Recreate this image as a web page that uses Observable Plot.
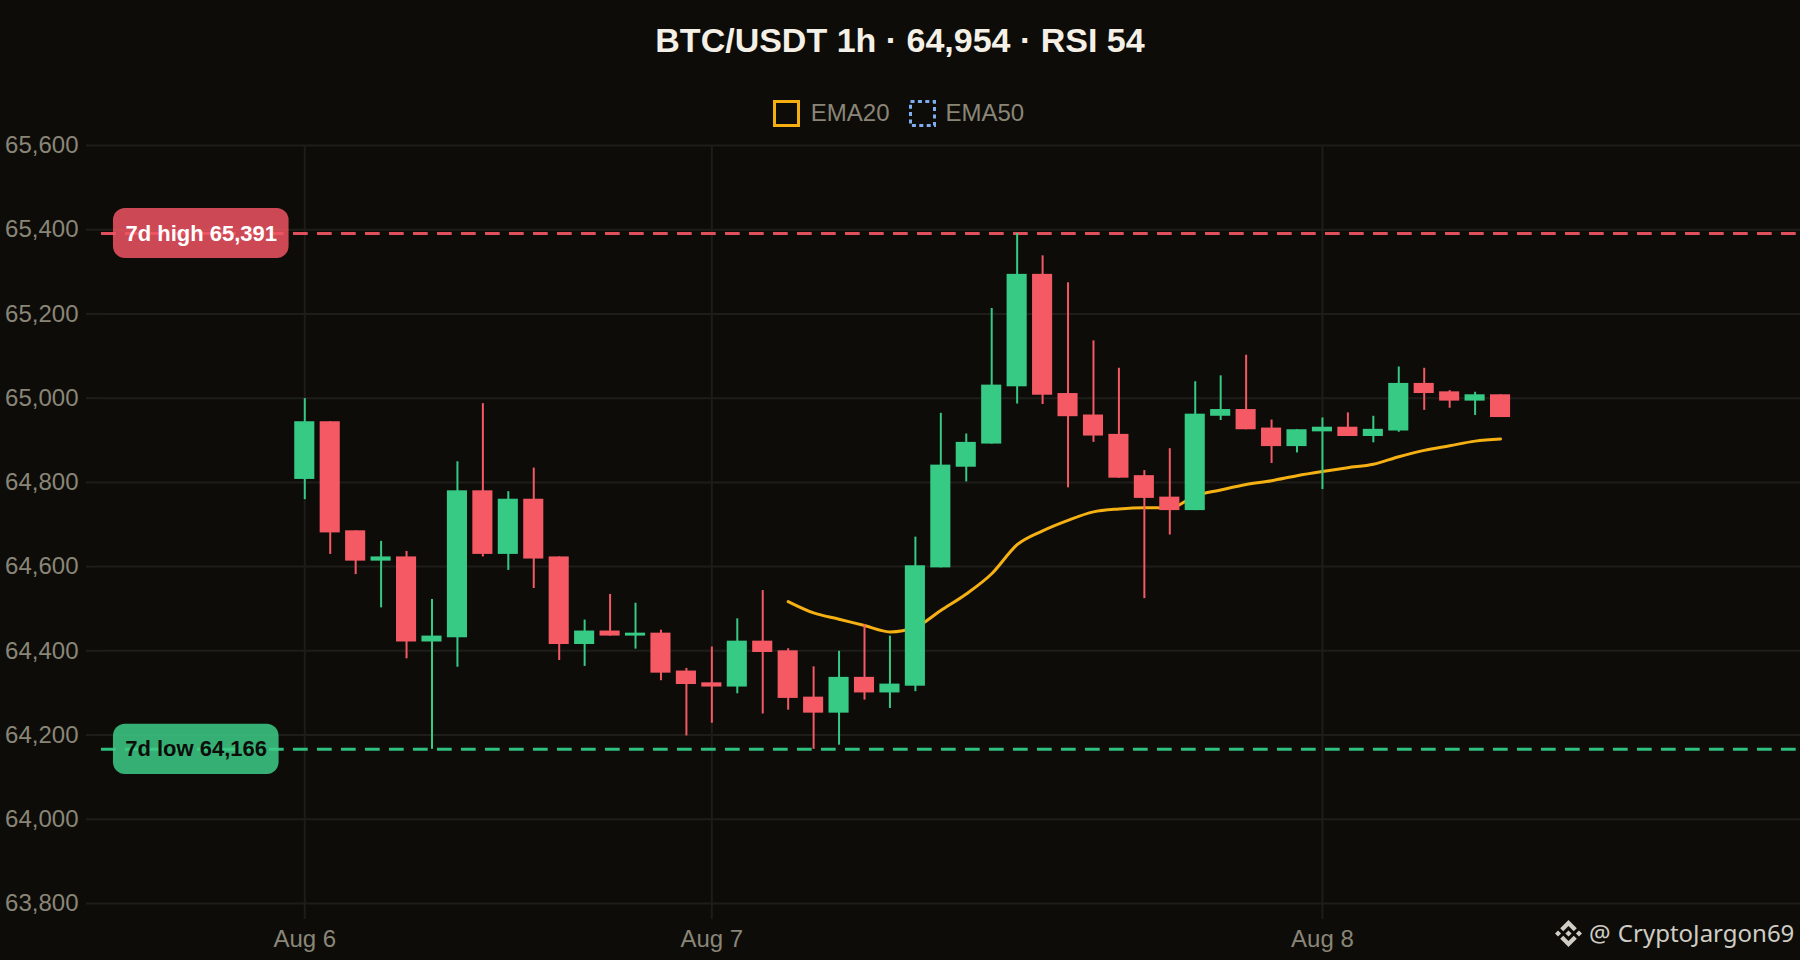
<!DOCTYPE html>
<html>
<head>
<meta charset="utf-8">
<script src="https://cdn.jsdelivr.net/npm/d3@7"></script>
<script src="https://cdn.jsdelivr.net/npm/@observablehq/plot@0.6"></script>
<style>
  html, body { margin: 0; padding: 0; background: #0d0c09; width: 1800px; height: 960px; overflow: hidden; }
  body { position: relative; font-family: "Liberation Sans", Arial, sans-serif; }
  #title { height: 80px; line-height: 80px; margin-bottom: 14px; text-align: center; font-size: 34px; font-weight: 700; color: #f5f0e6; }
  #legend { height: 38px; display: flex; justify-content: center; align-items: center; font-size: 24px; color: #8a8677; padding-right: 3px; }
  #legend svg { display: block; }
  #legend .t1 { margin: 0 19px 0 11px; }
  #legend .t2 { margin: 0 0 0 10px; }
  #chart svg { display: block; }
  #mark { position: absolute; left: 1589px; top: 915px; height: 36px; line-height: 36px; font-family: "Noto Sans", sans-serif; font-size: 24px; word-spacing: 1px; color: #cfcdc4; white-space: nowrap; }
  #logo { position: absolute; left: 1555px; top: 920px; }
</style>
</head>
<body>
<div id="title"></div>
<div id="legend"></div>
<div id="chart"></div>
<svg id="logo" width="27" height="27" viewBox="0 0 126.61 126.61"><path fill="#cfcdc4" d="M38.73 53.2l24.59-24.58 24.6 24.6 14.3-14.31L63.32 0 24.43 38.9zM0 63.31l14.3-14.31 14.31 14.31-14.31 14.3zM38.73 73.41L63.32 98l24.6-24.6 14.31 14.29-38.91 38.92-38.9-38.9zM98 63.31l14.3-14.31 14.31 14.3-14.31 14.32zM77.83 63.3L63.32 48.78 52.59 59.51l-1.24 1.23-2.54 2.54 14.51 14.5 14.51-14.47z"/></svg>
<div id="mark">@ CryptoJargon69</div>
<script>
const titleText = "BTC/USDT 1h · 64,954 · RSI 54";
const legendNames = ["EMA20", "EMA50"];
const watermark = "@ CryptoJargon69";

const open  = [64807,64944,64685,64613,64623,64421,64431,64780,64629,64760,64623,64415,64447,64435,64442,64352,64324,64314,64423,64400,64290,64252,64337,64300,64316,64597,64836,64891,65027,65294,65011,64960,64914,64816,64765,64733,64957,64973,64929,64885,64920,64931,64909,64922,65035,65015,64993,65008];
const high  = [64999,64944,64685,64660,64636,64522,64849,64987,64778,64834,64623,64473,64534,64513,64449,64358,64409,64476,64543,64405,64362,64399,64462,64435,64670,64964,64915,65213,65391,65338,65274,65136,65071,64828,64880,65039,65053,65102,64948,64925,64953,64965,64957,65074,65071,65018,65014,65008];
const low   = [64759,64629,64581,64502,64381,64166,64361,64623,64591,64548,64377,64363,64435,64404,64329,64198,64228,64298,64250,64259,64166,64176,64283,64263,64303,64597,64801,64891,64986,64985,64787,64895,64810,64524,64675,64733,64947,64925,64845,64870,64783,64909,64894,64919,64971,64976,64959,64954];
const close = [64944,64680,64613,64623,64421,64435,64780,64629,64760,64618,64415,64447,64435,64442,64347,64320,64314,64423,64396,64287,64252,64337,64300,64321,64602,64841,64895,65031,65294,65007,64956,64910,64810,64762,64733,64962,64973,64925,64885,64925,64931,64909,64926,65035,65011,64993,65008,64954];
const ema20 = [64517,64490,64475,64460,64445,64456,64496,64535,64583,64652,64685,64710,64730,64737,64740,64739,64768,64782,64795,64804,64816,64826,64835,64843,64861,64876,64887,64898,64903];
const ema20Start = 19;
const yTicks = [65600,65400,65200,65000,64800,64600,64400,64200,64000,63800];
const dayPositions = [0,16,40];
const dayLabels = ["Aug 6","Aug 7","Aug 8"];
const sevenDayHigh = 65391;
const sevenDayLow = 64166;

const bg = "#0d0c09", grid = "#1e1d19", axisText = "#8a8677";
const up = "#36ca84", down = "#f45964";

document.getElementById("title").textContent = titleText;
document.getElementById("mark").textContent = watermark;

const swatch = (color, dash) => `<svg width="27" height="27"><rect x="1.5" y="1.5" width="24" height="24" fill="none" stroke="${color}" stroke-width="3"${dash ? ` stroke-dasharray="${dash}"` : ""}/></svg>`;
document.getElementById("legend").innerHTML =
  swatch("#f5ae0f") + `<span class="t1">${legendNames[0]}</span>` +
  swatch("#7eaef0", "4 3.4") + `<span class="t2">${legendNames[1]}</span>`;

const candles = open.map((o, i) => ({i, o, h: high[i], l: low[i], c: close[i]}));
const rising = candles.filter(d => d.c >= d.o);
const falling = candles.filter(d => d.c < d.o);
const emaRows = ema20.map((v, k) => ({i: k + ema20Start, v}));
const halfBody = 0.395;
const badgeHalfHeight = 59.5;

const candleMarks = (rows, color) => [
  Plot.ruleX(rows, {x: "i", y1: "l", y2: "h", stroke: color, strokeWidth: 2}),
  Plot.rect(rows, {
    x1: d => d.i - halfBody, x2: d => d.i + halfBody,
    y1: d => Math.min(d.o, d.c), y2: d => Math.max(d.o, d.c),
    fill: color
  })
];

const chart = Plot.plot({
  width: 1800,
  height: 828,
  marginTop: 13,
  marginBottom: 41,
  marginLeft: 101,
  marginRight: 0,
  style: {background: bg, fontFamily: '"Liberation Sans", Arial, sans-serif', fontSize: "24px", overflow: "visible"},
  x: {domain: [-7.99, 58.79], label: null},
  y: {domain: [63762, 65600], label: null},
  marks: [
    Plot.gridY(yTicks, {stroke: grid, strokeOpacity: 1, strokeWidth: 2}),
    Plot.gridX(dayPositions, {stroke: grid, strokeOpacity: 1, strokeWidth: 2}),
    Plot.axisY(yTicks, {tickFormat: d3.format(","), tickSize: 15, tickPadding: 8, color: axisText, stroke: grid, strokeWidth: 2, label: null, anchor: "left"}),
    Plot.axisX(dayPositions, {tickFormat: d => dayLabels[dayPositions.indexOf(d)], tickSize: 0, tickPadding: 10, color: axisText, label: null, anchor: "bottom"}),
    Plot.ruleY([sevenDayHigh], {stroke: "#e0505c", strokeWidth: 3, strokeDasharray: "14.7 9.3"}),
    Plot.ruleY([sevenDayLow], {stroke: "#2fbf7f", strokeWidth: 3, strokeDasharray: "14.7 9.3"}),
    Plot.line(emaRows, {x: "i", y: "v", stroke: "#f5b014", strokeWidth: 3, curve: "monotone-x"}),
    ...candleMarks(falling, down),
    ...candleMarks(rising, up),
    Plot.rect([sevenDayHigh], {x1: -7.52, x2: -0.617, y1: d => d - badgeHalfHeight, y2: d => d + badgeHalfHeight, fill: "#ef5462", fillOpacity: 0.85, r: 12}),
    Plot.rect([sevenDayLow], {x1: -7.52, x2: -1.01, y1: d => d - badgeHalfHeight, y2: d => d + badgeHalfHeight, fill: "#3dcc87", fillOpacity: 0.85, r: 12}),
    Plot.text([sevenDayHigh], {x: -4.07, y: d => d, text: d => `7d high ${d3.format(",")(d)}`, fill: "#ffffff", fontWeight: 700, fontSize: 22}),
    Plot.text([sevenDayLow], {x: -4.27, y: d => d, text: d => `7d low ${d3.format(",")(d)}`, fill: "#0d0c09", fontWeight: 700, fontSize: 22})
  ]
});
document.getElementById("chart").appendChild(chart);
</script>
</body>
</html>
